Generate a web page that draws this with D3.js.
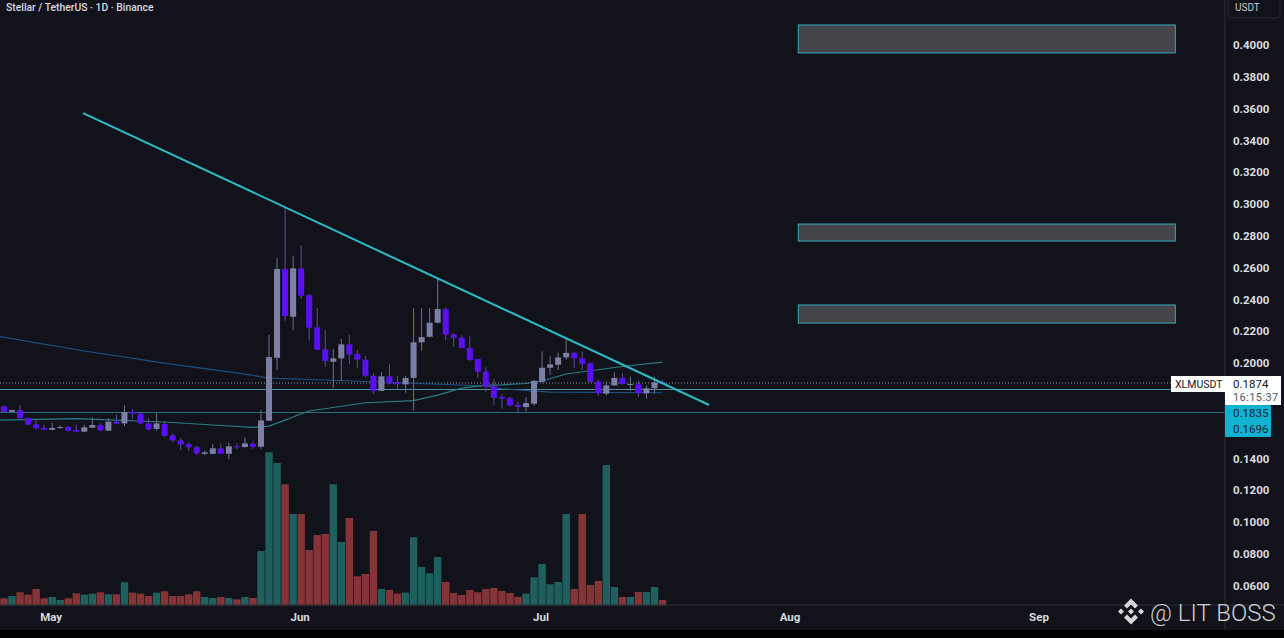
<!DOCTYPE html>
<html><head><meta charset="utf-8">
<script src="https://cdn.jsdelivr.net/npm/d3@7"></script>
<style>
html,body{margin:0;padding:0;background:#000;overflow:hidden}
svg{display:block}
text{font-family:Roboto,"Open Sans",sans-serif}
</style></head><body>
<svg id="c" width="1284" height="638"></svg>
<script>
// Daily candles from 25 Apr
const opens=[.1727,.1693,.1704,.1654,.1614,.1591,.1580,.1593,.1597,.1578,.1568,.1593,.1610,.1574,.1631,.1620,.1692,.1681,.1620,.1585,.1616,.1545,.1513,.1490,.1470,.1429,.1429,.1463,.1429,.1476,.1472,.1492,.1473,.1637,.2033,.2591,.2291,.2595,.2427,.2224,.2086,.2008,.2029,.2117,.2057,.2021,.1920,.1825,.1916,.1880,.1866,.1907,.2130,.2165,.2253,.2339,.2180,.2159,.2094,.2025,.1946,.1855,.1786,.1778,.1736,.1723,.1744,.1882,.1970,.1989,.2035,.2064,.2029,.1998,.1882,.1807,.1859,.1906,.1864,.1866,.1810,.1841,.1880];
const highs=[.1732,.1706,.1736,.1657,.1639,.1610,.1624,.1608,.1603,.1612,.1610,.1658,.1620,.1652,.1675,.1734,.1709,.1692,.1652,.1683,.1635,.1557,.1526,.1501,.1478,.1446,.1490,.1494,.1499,.1494,.1532,.1509,.1704,.2176,.2660,.2981,.2673,.2742,.2434,.2346,.2207,.2088,.2151,.2176,.2082,.2044,.1937,.1943,.1995,.1918,.1918,.2344,.2344,.2344,.2533,.2350,.2188,.2174,.2170,.2025,.1973,.1899,.1803,.1788,.1756,.1786,.1893,.2073,.2044,.2067,.2155,.2069,.2071,.2004,.1897,.1884,.1943,.1937,.1914,.1891,.1860,.1914,.1893];
const lows=[.1691,.1691,.1649,.1610,.1583,.1578,.1578,.1587,.1570,.1566,.1566,.1591,.1574,.1572,.1614,.1603,.1649,.1614,.1576,.1574,.1536,.1501,.1454,.1446,.1421,.1421,.1425,.1427,.1394,.1459,.1468,.1461,.1461,.1635,.1956,.2266,.2207,.2402,.2144,.2082,.1979,.1844,.1887,.1993,.1971,.1910,.1807,.1823,.1867,.1836,.1813,.1700,.2077,.2161,.2249,.2144,.2100,.2092,.2014,.1907,.1819,.1737,.1712,.1725,.1687,.1696,.1731,.1876,.1924,.1956,.2021,.1971,.1956,.1876,.1794,.1796,.1857,.1864,.1824,.1786,.1775,.1807,.1868];
const closes=[.1693,.1704,.1654,.1612,.1589,.1580,.1591,.1597,.1574,.1568,.1595,.1610,.1576,.1631,.1618,.1692,.1681,.1620,.1583,.1620,.1542,.1513,.1488,.1470,.1432,.1438,.1463,.1429,.1476,.1470,.1494,.1473,.1639,.2037,.2591,.2295,.2595,.2423,.2222,.2084,.2012,.2029,.2117,.2052,.2021,.1920,.1825,.1916,.1872,.1866,.1905,.2130,.2163,.2253,.2339,.2178,.2159,.2094,.2019,.1945,.1852,.1781,.1775,.1734,.1723,.1748,.1888,.1970,.1991,.2035,.2064,.2029,.1995,.1882,.1809,.1859,.1906,.1868,.1868,.1810,.1841,.1878,.1870];
const volumes=[21,28,39,32,49,21,25,16,21,36,32,35,39,33,33,69,38,35,28,38,42,28,28,33,42,25,22,25,22,18,25,22,163,459,427,363,274,274,166,211,214,363,190,262,87,94,223,49,46,35,38,204,115,96,145,70,37,31,46,39,49,52,43,37,25,35,84,124,63,70,274,49,274,61,73,421,55,25,25,40,40,55,16];
// Moving averages as [candle number, price]
const maLong=[[-0.5,.2166],[10,.2075],[20,.1999],[30,.1930],[33,.1905],[40,.1893],[50,.1874],[60,.1855],[62,.1838],[68,.1817],[82,.1813]];
const maMid=[[-0.5,.1641],[9,.1650],[20,.1629],[26,.1610],[31,.1595],[33,.1603],[35,.1641],[37,.1681],[38,.1698],[45,.1750],[51,.1763],[54,.1798],[57,.1842],[60,.1861],[62,.1863],[65,.1871],[67,.1887],[70,.1931],[77,.1978],[82,.2006]];
// Drawings
const trendLine=[[9.84,.3572],[87.8,.1736]];
const zones=[[98.9,145.85,.4126,.3950],[98.9,145.85,.2874,.2767],[98.9,145.85,.2365,.2251]];
const priceTicks=[.06,.08,.10,.12,.14,.20,.22,.24,.26,.28,.30,.32,.34,.36,.38,.40];
const monthTicks=[["May",6],["Jun",37],["Jul",67],["Aug",98],["Sep",129]];
const lastPrice=.1874, level1=.1835, level2=.1696;

const svg=d3.select("#c");
const BG="#12131a",W=1284,H=638,R=1225,B=605;
const UP="#7d80a6",DN="#5a10f0";
svg.append("rect").attr("width",W).attr("height",630).attr("fill",BG);

const x=d3.scaleLinear().domain([0,129]).range([4,1040]);
const y=d3.scaleLinear().domain([.4,.06]).range([45,585.6]);
const yV=d3.scaleLinear().domain([0,459]).range([605.3,452.3]);
const idx=d3.range(opens.length);

// Volume
svg.append("g").selectAll("rect").data(idx).join("rect")
 .attr("x",i=>x(i)-3.7).attr("width",7.4)
 .attr("y",i=>yV(volumes[i])).attr("height",i=>yV(0)-yV(volumes[i]))
 .attr("fill",i=>closes[i]>=opens[i]?"#1f5f5e":"#843437");

// Level lines
svg.append("line").attr("x1",0).attr("x2",R).attr("y1",Math.ceil(y(level2))+.5).attr("y2",Math.ceil(y(level2))+.5).attr("stroke","#2c6f78");
svg.append("line").attr("x1",0).attr("x2",R).attr("y1",Math.floor(y(level1))+.5).attr("y2",Math.floor(y(level1))+.5).attr("stroke","#4a8fa3");
svg.append("line").attr("x1",0).attr("x2",R).attr("y1",y(lastPrice)).attr("y2",y(lastPrice)).attr("stroke","#8f8f96").attr("stroke-dasharray","1 2");

// Moving averages
const ln=d3.line().x(d=>x(d[0])).y(d=>y(d[1]));
svg.append("path").attr("d",ln(maLong)).attr("fill","none").attr("stroke","#1c5080").attr("stroke-width",1.1);
svg.append("path").attr("d",ln(maMid)).attr("fill","none").attr("stroke","#2b7c88").attr("stroke-width",1.2);

// Candles
const g=svg.append("g");
g.selectAll("line").data(idx).join("line")
 .attr("x1",i=>x(i)).attr("x2",i=>x(i)).attr("y1",i=>y(highs[i])).attr("y2",i=>y(lows[i]))
 .attr("stroke",i=>closes[i]>=opens[i]?"#6d6f92":"#5f4aa0").attr("stroke-width",1);
g.selectAll("rect").data(idx).join("rect")
 .attr("x",i=>x(i)-3).attr("width",6)
 .attr("y",i=>y(Math.max(opens[i],closes[i])))
 .attr("height",i=>Math.max(1,Math.abs(y(opens[i])-y(closes[i]))))
 .attr("fill",i=>closes[i]>=opens[i]?UP:DN);

// Trend line
svg.append("path").attr("d",ln(trendLine)).attr("stroke","#2bbccb").attr("stroke-width",2).attr("fill","none");

// Zones
svg.append("g").selectAll("rect").data(zones).join("rect")
 .attr("x",d=>x(d[0])).attr("width",d=>x(d[1])-x(d[0]))
 .attr("y",d=>y(d[2])).attr("height",d=>y(d[3])-y(d[2]))
 .attr("fill","#444449").attr("stroke","#33a9bc").attr("stroke-width",1);

// Frame
svg.append("line").attr("x1",R).attr("x2",R).attr("y1",0).attr("y2",630).attr("stroke","#2e2f36");
svg.append("line").attr("x1",0).attr("x2",W).attr("y1",B).attr("y2",B).attr("stroke","#2e2f36");

// Price axis
const ax=svg.append("g").attr("transform",`translate(${R},0)`)
 .call(d3.axisRight(y).tickValues(priceTicks).tickFormat(d3.format(".4f")).tickSize(0).tickPadding(8));
ax.select(".domain").remove();
ax.selectAll("text").attr("fill","#dcdde2").attr("font-size",11.5).attr("font-weight",700).attr("font-family","Roboto,sans-serif");

// Time axis
svg.append("g").selectAll("text").data(monthTicks).join("text")
 .attr("x",d=>x(d[1])-1).attr("y",621).attr("text-anchor","middle").attr("fill","#d8d9de")
 .attr("font-size",11.5).attr("font-weight",700).text(d=>d[0]);

// Title
svg.append("text").attr("x",6).attr("y",11).attr("fill","#dadbe0").attr("font-size",10.35).attr("font-weight",500).text("Stellar / TetherUS · 1D · Binance");

// USDT box
svg.append("rect").attr("x",1228).attr("y",-6).attr("width",52).attr("height",24).attr("rx",3).attr("fill","none").attr("stroke","#26272e");
svg.append("text").attr("x",1235).attr("y",11).attr("fill","#c9cad0").attr("font-size",10).text("USDT");

// Price labels
svg.append("rect").attr("x",1171).attr("y",376).attr("width",54).attr("height",16).attr("fill","#fff");
svg.append("rect").attr("x",1225).attr("y",376).attr("width",56).attr("height",29).attr("fill","#fff");
svg.append("text").attr("x",1175).attr("y",388).attr("fill","#131722").attr("font-size",10.5).text("XLMUSDT");
svg.append("text").attr("x",1233).attr("y",388).attr("fill","#131722").attr("font-size",11.5).text(lastPrice.toFixed(4));
svg.append("text").attr("x",1233).attr("y",401).attr("fill","#555862").attr("font-size",11).attr("letter-spacing",.4).text("16:15:37");
svg.append("rect").attr("x",1225).attr("y",405).attr("width",46).attr("height",32).attr("rx",1).attr("fill","#12b3d0");
svg.append("text").attr("x",1233).attr("y",417).attr("fill","#10222c").attr("font-size",11.5).text(level1.toFixed(4));
svg.append("text").attr("x",1233).attr("y",433).attr("fill","#10222c").attr("font-size",11.5).text(level2.toFixed(4));

// Watermark
const wm=svg.append("g").attr("transform","translate(1131,611.5)").attr("fill","#d6d6d8");
wm.append("path").attr("d","M0,-13 L7,-6 L4,-3 L0,-7 L-4,-3 L-7,-6 Z");
wm.append("path").attr("d","M0,13 L7,6 L4,3 L0,7 L-4,3 L-7,6 Z");
wm.append("path").attr("d","M0,-3 L3,0 L0,3 L-3,0 Z");
wm.append("path").attr("d","M-10,-3 L-7,0 L-10,3 L-13,0 Z");
wm.append("path").attr("d","M10,-3 L13,0 L10,3 L7,0 Z");
svg.append("text").attr("x",1150).attr("y",621).attr("fill","#cfcfd2").attr("font-size",24).attr("font-family","Lato,sans-serif").attr("font-weight",300).text("@ LIT BOSS");
</script>
</body></html>
